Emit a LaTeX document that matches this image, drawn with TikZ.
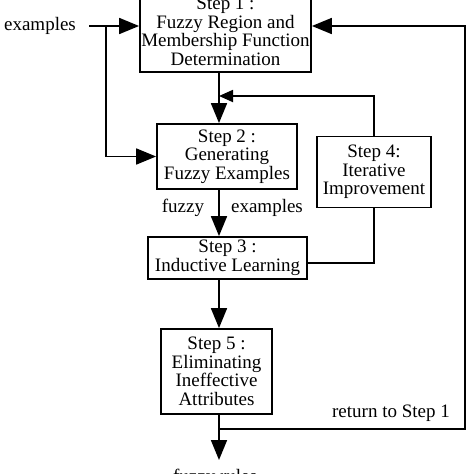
\documentclass[tikz,border=0pt]{standalone}
\usepackage{fontspec}
\setmainfont{Liberation Serif}
\usetikzlibrary{arrows.meta}

\begin{document}
\begin{tikzpicture}[x=1pt,y=-1pt,
		box/.style={draw,line width=1.8pt,inner sep=0pt,align=center,font=\fontsize{19}{18.5}\selectfont},
		lbl/.style={inner sep=0pt,font=\fontsize{19}{18.5}\selectfont},
		link/.style={line width=1.8pt},
		arr/.style={link,-{Triangle[length=20pt,width=16pt]}}]
		\useasboundingbox (0,0) rectangle (474,474);
		\clip (0,0) rectangle (474,474);

		\node[box,minimum width=171pt,minimum height=81pt] (s1) at (225.5,31.5){Step 1 :\\Fuzzy Region and\\Membership Function\\Determination};
		\node[box,minimum width=140pt,minimum height=65pt] (s2) at (227,156.5){Step 2 :\\Generating\\Fuzzy Examples};
		\node[box,minimum width=159pt,minimum height=42pt] (s3) at (227.5,258){Step 3 :\\Inductive Learning};
		\node[box,minimum width=114pt,minimum height=71pt] (s4) at (374,172){Step 4:\\Iterative\\Improvement};
		\node[box,minimum width=111pt,minimum height=85pt] (s5) at (216.5,371.5){Step 5 :\\Eliminating\\Ineffective\\Attributes};

		\node[lbl] (ex) at (40,26){examples};
		\node[lbl] (fz) at (183,208){fuzzy};
		\node[lbl] (fx) at (267,208){examples};
		\node[lbl] (rt) at (391,413){return to Step 1};
		\node[lbl,anchor=north,inner ysep=9pt] (out) at (215,460){fuzzy rules};

		\coordinate (spine) at (219,0);
		\coordinate (split) at (106,26);
		\coordinate (join) at (219,96);
		\coordinate (ret) at (219,429);
		\coordinate (back) at (465,429);

		\draw[arr] (s1.south -| spine) -- (s2.north -| spine);
		\draw[arr] (s2.south -| spine) -- (s3.north -| spine);
		\draw[arr] (s3.south -| spine) -- (s5.north -| spine);
		\draw[arr] (s5.south -| spine) -- (out.north -| spine);

		\draw[arr] ([xshift=13pt]ex.east) -- (s1.west |- ex.center);
		\draw[arr] (split) |- (s2.west);

		\draw[link] ([yshift=-5pt]s3.east) -| (s4.south);
		\draw[link,-{Triangle[length=14pt,width=12pt]}] (s4.north) |- (join);

		\draw[arr] (ret) -- (back) |- (s1.east |- ex.center);
	\end{tikzpicture}
\end{document}
